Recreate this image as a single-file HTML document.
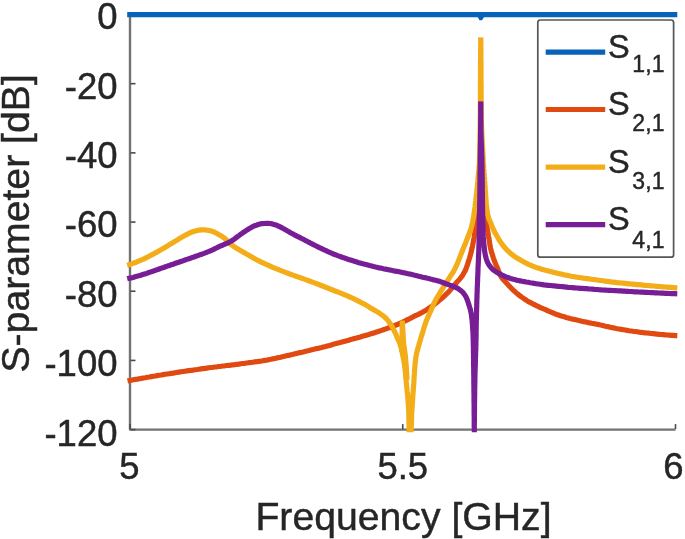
<!DOCTYPE html>
<html lang="en"><head><meta charset="utf-8"><title>S-parameter plot</title>
<style>
html,body{margin:0;padding:0;background:#fff;}
body{width:685px;height:539px;overflow:hidden;}
svg{display:block;filter:blur(0.4px);}
</style></head><body>
<svg width="685" height="539" viewBox="0 0 685 539">
<rect width="685" height="539" fill="#ffffff"/>
<defs><clipPath id="clip"><rect x="120" y="0" width="565" height="432.3"/></clipPath></defs>
<g stroke="#737373" stroke-width="2.4" fill="none" stroke-linejoin="round">
<path d="M130.0,14.5V429.6H675.5"/>
</g>
<g stroke="#4a4a4a" stroke-width="1.6" fill="none">
<path d="M130.5,14.50h5"/>
<path d="M130.5,83.68h5"/>
<path d="M130.5,152.87h5"/>
<path d="M130.5,222.05h5"/>
<path d="M130.5,291.23h5"/>
<path d="M130.5,360.42h5"/>
<path d="M130.5,429.60h5"/>
<path d="M130.00,429.1v-5"/>
<path d="M402.75,429.1v-5"/>
<path d="M675.50,429.1v-5"/>
</g>
<g fill="none" stroke-width="5.2" stroke-linejoin="bevel" stroke-linecap="butt" clip-path="url(#clip)">
<path stroke="#0762B8" d="M127.2,14.7H677.3"/>
<path stroke="#0762B8" stroke-width="3" d="M478.5,15L480.75,19.5L483.5,15"/>
<path stroke="#E0490F" d="M127.5,380.9L129.5,380.5L131.5,380.2L133.4,379.8L135.4,379.4L137.4,379.1L139.4,378.7L141.4,378.4L143.3,378.0L145.3,377.7L147.3,377.3L149.3,377.0L151.3,376.6L153.2,376.3L155.2,376.0L157.2,375.6L159.2,375.3L161.2,375.0L163.2,374.6L165.1,374.3L167.1,374.0L169.1,373.7L171.1,373.4L173.1,373.1L175.1,372.7L177.1,372.4L179.0,372.1L181.0,371.8L183.0,371.5L185.0,371.2L187.0,370.9L189.0,370.6L191.0,370.3L193.0,370.1L195.0,369.8L197.0,369.5L198.9,369.2L200.9,368.9L202.9,368.6L204.9,368.4L206.9,368.1L208.9,367.8L210.9,367.5L212.9,367.3L214.9,367.0L216.9,366.8L218.9,366.5L220.9,366.3L222.9,366.0L224.9,365.8L226.9,365.5L228.9,365.3L230.9,365.1L232.9,364.8L234.8,364.6L236.8,364.3L238.8,364.1L240.8,363.8L242.8,363.5L244.8,363.3L246.8,363.0L248.8,362.7L250.8,362.5L252.8,362.2L254.8,361.9L256.8,361.7L258.8,361.4L260.8,361.1L262.7,360.8L264.7,360.4L266.7,360.1L268.7,359.7L270.7,359.3L272.6,358.9L274.6,358.5L276.6,358.1L278.5,357.6L280.5,357.2L282.4,356.7L284.4,356.3L286.4,355.8L288.3,355.4L290.3,354.9L292.2,354.5L294.2,354.0L296.2,353.5L298.1,353.1L300.1,352.6L302.0,352.2L304.0,351.7L305.9,351.2L307.9,350.8L309.9,350.3L311.8,349.8L313.8,349.3L315.7,348.8L317.7,348.4L319.6,347.9L321.6,347.4L323.5,346.9L325.5,346.4L327.4,345.9L329.4,345.4L331.3,344.9L333.2,344.3L335.2,343.8L337.1,343.3L339.1,342.8L341.0,342.3L343.0,341.7L344.9,341.2L346.8,340.7L348.8,340.2L350.7,339.6L352.7,339.1L354.6,338.5L356.5,338.0L358.5,337.4L360.4,336.9L362.3,336.3L364.3,335.8L366.2,335.2L368.1,334.7L370.1,334.1L372.0,333.5L373.9,332.9L375.8,332.3L377.7,331.7L379.6,331.1L381.5,330.4L383.4,329.7L385.3,329.1L387.2,328.4L389.1,327.7L391.0,327.0L392.9,326.2L394.7,325.5L396.6,324.8L398.5,324.0L400.3,323.2L402.2,322.4L404.0,321.5L405.8,320.6L407.6,319.7L409.4,318.8L411.1,317.9L412.9,316.9L414.7,316.0L416.5,315.2L418.4,314.3L420.2,313.4L422.0,312.5L423.7,311.5L425.5,310.5L427.2,309.5L428.8,308.3L430.5,307.2L432.1,306.0L433.7,304.8L435.3,303.6L436.9,302.4L438.5,301.1L440.0,299.8L441.6,298.5L443.1,297.2L444.6,295.8L446.0,294.4L447.5,293.0L448.9,291.6L450.2,290.1L451.5,288.6L452.9,287.1L454.1,285.5L455.4,284.0L456.7,282.4L458.0,280.9L459.4,279.4L460.7,277.9L461.9,276.3L463.0,274.6L464.0,272.8L465.0,271.1L465.8,269.3L466.5,267.4L467.2,265.5L467.8,263.6L468.4,261.6L469.0,259.7L469.6,257.8L470.2,255.8L470.7,253.9L471.2,252.0L471.6,250.0L472.1,248.0L472.5,246.1L472.9,244.1L473.3,242.1L473.6,240.1L474.0,238.2L474.3,236.2L474.6,234.2L475.0,232.2L475.3,230.2L475.6,228.2L475.8,226.2L476.1,224.2L476.3,222.3L476.6,220.3L476.8,218.3L477.0,216.3L477.2,214.3L477.4,212.2L477.6,210.2L477.7,208.2L477.9,206.2L478.1,204.2L478.2,202.2L478.4,200.2L478.5,198.2L478.6,196.2L478.8,194.2L478.9,192.2L479.0,190.2L479.1,188.2L479.2,186.2L479.3,184.2L479.4,182.2L479.5,180.1L479.6,178.1L479.7,176.1L479.8,174.1L479.9,172.1L480.0,170.1L480.1,168.1L480.2,166.1L480.3,164.1L480.4,162.1L480.4,160.1L480.5,158.0L480.6,156.0L480.6,154.0L480.7,152.0L480.8,150.0L480.8,152.0L480.9,154.0L481.0,156.0L481.1,158.0L481.2,160.1L481.3,162.1L481.4,164.1L481.5,166.1L481.6,168.1L481.7,170.1L481.9,172.1L482.0,174.1L482.1,176.1L482.2,178.2L482.4,180.2L482.5,182.2L482.6,184.2L482.7,186.2L482.9,188.2L483.0,190.2L483.1,192.2L483.3,194.2L483.4,196.2L483.6,198.2L483.7,200.3L483.9,202.3L484.1,204.3L484.2,206.3L484.4,208.3L484.6,210.3L484.9,212.3L485.1,214.3L485.4,216.3L485.7,218.3L486.0,220.2L486.3,222.2L486.6,224.2L486.9,226.2L487.2,228.2L487.5,230.2L487.9,232.2L488.2,234.2L488.5,236.2L488.8,238.1L489.2,240.1L489.5,242.1L489.8,244.1L490.1,246.1L490.5,248.1L491.0,250.0L491.5,252.0L492.1,253.9L492.7,255.8L493.3,257.8L494.0,259.7L494.7,261.5L495.4,263.4L496.2,265.3L497.0,267.1L497.8,269.0L498.5,270.9L499.2,272.8L500.0,274.6L500.9,276.4L502.0,278.0L503.2,279.6L504.6,281.1L506.0,282.6L507.4,284.1L508.8,285.6L510.2,287.0L511.6,288.5L513.0,289.9L514.5,291.2L516.0,292.6L517.5,293.9L519.1,295.1L520.7,296.3L522.3,297.5L524.0,298.7L525.7,299.8L527.4,300.9L529.1,301.9L530.9,302.8L532.7,303.8L534.5,304.7L536.3,305.6L538.1,306.4L539.9,307.3L541.8,308.1L543.6,308.9L545.5,309.7L547.3,310.5L549.2,311.3L551.0,312.1L552.9,312.9L554.7,313.7L556.6,314.4L558.5,315.0L560.4,315.7L562.3,316.3L564.3,316.8L566.2,317.4L568.2,317.9L570.1,318.4L572.1,318.9L574.0,319.4L576.0,319.8L577.9,320.3L579.9,320.7L581.9,321.2L583.8,321.6L585.8,322.0L587.8,322.4L589.8,322.9L591.7,323.3L593.7,323.6L595.7,324.0L597.7,324.4L599.6,324.8L601.6,325.2L603.6,325.7L605.5,326.2L607.5,326.6L609.4,327.1L611.4,327.5L613.4,327.9L615.3,328.3L617.3,328.7L619.3,329.0L621.3,329.4L623.3,329.7L625.3,330.0L627.3,330.4L629.2,330.7L631.2,331.0L633.2,331.3L635.2,331.5L637.2,331.8L639.2,332.1L641.2,332.3L643.2,332.6L645.2,332.8L647.2,333.0L649.2,333.2L651.2,333.5L653.2,333.7L655.2,333.9L657.2,334.1L659.2,334.3L661.2,334.5L663.2,334.6L665.2,334.8L667.2,335.0L669.3,335.1L671.3,335.3L673.3,335.4L675.3,335.6L677.3,335.7"/>
<path stroke="#F2AD18" d="M127.2,265.4L129.1,264.8L131.0,264.1L132.9,263.4L134.8,262.7L136.7,262.0L138.6,261.2L140.4,260.4L142.2,259.6L144.1,258.8L145.9,257.9L147.7,257.0L149.5,256.1L151.3,255.1L153.1,254.2L154.8,253.2L156.6,252.3L158.3,251.3L160.1,250.3L161.8,249.3L163.6,248.2L165.3,247.2L167.0,246.2L168.8,245.1L170.5,244.1L172.2,243.1L173.9,242.0L175.6,240.9L177.4,239.9L179.1,238.8L180.8,237.8L182.6,236.8L184.3,235.8L186.1,234.8L187.9,233.9L189.7,233.0L191.5,232.2L193.4,231.5L195.4,230.9L197.3,230.4L199.3,230.1L201.3,229.9L203.3,229.8L205.3,229.9L207.3,230.2L209.3,230.6L211.3,231.1L213.2,231.7L215.0,232.5L216.9,233.4L218.6,234.4L220.4,235.4L222.1,236.5L223.7,237.7L225.3,238.9L226.7,240.3L228.1,241.8L229.6,243.2L231.1,244.4L232.7,245.6L234.4,246.8L236.1,247.9L237.8,248.9L239.6,250.0L241.3,251.0L243.1,252.0L244.8,253.1L246.5,254.1L248.3,255.1L250.0,256.1L251.8,257.1L253.5,258.1L255.3,259.0L257.1,260.0L258.9,260.9L260.7,261.8L262.5,262.7L264.3,263.5L266.2,264.4L268.0,265.2L269.8,266.0L271.7,266.8L273.5,267.6L275.4,268.4L277.3,269.1L279.1,269.9L281.0,270.6L282.9,271.4L284.8,272.1L286.6,272.8L288.5,273.5L290.4,274.2L292.3,274.9L294.2,275.6L296.1,276.3L298.0,276.9L299.9,277.6L301.8,278.2L303.7,278.9L305.6,279.6L307.5,280.3L309.4,281.0L311.3,281.7L313.2,282.4L315.1,283.1L317.0,283.8L318.8,284.5L320.7,285.3L322.6,286.0L324.5,286.7L326.3,287.5L328.2,288.2L330.1,289.0L332.0,289.7L333.8,290.5L335.7,291.2L337.6,291.9L339.5,292.7L341.3,293.4L343.2,294.2L345.1,294.9L346.9,295.7L348.8,296.5L350.6,297.3L352.4,298.2L354.3,299.0L356.1,299.9L357.9,300.8L359.7,301.7L361.5,302.7L363.2,303.6L365.0,304.6L366.7,305.6L368.5,306.6L370.2,307.7L371.9,308.7L373.7,309.8L375.4,310.8L377.1,311.8L378.9,312.8L380.5,314.0L382.2,315.2L383.8,316.4L385.3,317.7L386.7,319.1L388.0,320.6L389.2,322.3L390.4,323.9L391.5,325.6L392.5,327.4L393.4,329.1L394.3,331.0L395.2,332.8L396.0,334.6L396.8,336.5L397.5,338.4L398.4,340.2L399.3,342.0L400.0,343.9L400.5,345.8L401.1,347.8L401.6,349.7L402.0,351.7L402.4,353.7L402.8,355.6L403.2,357.6L403.6,359.6L404.0,361.6L404.3,363.6L404.6,365.6L404.8,367.6L405.1,369.6L405.3,371.6L405.5,373.6L405.7,375.6L405.8,377.6L406.0,379.6L406.2,381.6L406.4,383.6L406.6,385.6L406.8,387.6L407.0,389.6L407.2,391.6L407.5,393.6L407.7,395.6L407.8,397.6L408.0,399.7L408.1,401.7L408.3,403.7L408.4,405.7L408.5,407.7L408.6,409.7L408.7,411.7L408.8,413.7L408.8,415.8L408.9,417.8L408.9,419.8L409.0,421.8L409.0,423.8L409.1,425.8L409.1,427.8L409.1,429.9L409.2,431.9L409.2,433.9L409.3,435.9L409.4,437.9L409.4,439.9L409.5,441.9L409.5,444.0L409.6,446.0L409.6,448.0L409.7,450.0L410.6,450.0L410.7,448.0L410.7,446.0L410.8,444.0L410.8,441.9L410.9,439.9L410.9,437.9L411.0,435.9L411.0,433.9L411.1,431.9L411.2,429.8L411.2,427.8L411.3,425.8L411.4,423.8L411.4,421.8L411.5,419.8L411.6,417.8L411.6,415.7L411.7,413.7L411.8,411.7L411.9,409.7L412.1,407.7L412.2,405.7L412.3,403.7L412.5,401.7L412.6,399.6L412.7,397.6L412.9,395.6L413.0,393.6L413.2,391.6L413.3,389.6L413.5,387.6L413.6,385.6L413.8,383.6L413.9,381.6L414.0,379.5L414.1,377.5L414.2,375.5L414.4,373.5L414.5,371.5L414.6,369.5L414.8,367.5L415.0,365.5L415.1,363.4L415.4,361.4L415.6,359.4L415.8,357.4L416.2,355.5L416.6,353.5L417.0,351.5L417.6,349.6L418.1,347.6L418.7,345.7L419.2,343.7L419.8,341.8L420.3,339.9L420.9,337.9L421.5,336.0L422.1,334.1L422.7,332.2L423.3,330.2L423.8,328.3L424.4,326.4L425.1,324.4L425.7,322.5L426.4,320.7L427.2,318.8L428.0,316.9L428.8,315.1L429.6,313.3L430.5,311.4L431.3,309.6L432.1,307.7L432.9,305.9L433.7,304.0L434.6,302.2L435.5,300.4L436.4,298.6L437.5,296.9L438.5,295.2L439.5,293.5L440.6,291.7L441.6,290.0L442.7,288.3L443.8,286.6L444.8,284.9L445.9,283.2L447.0,281.5L448.1,279.8L449.2,278.1L450.3,276.4L451.4,274.7L452.5,273.0L453.6,271.3L454.5,269.6L455.4,267.7L456.3,265.9L457.1,264.1L457.9,262.2L458.6,260.3L459.4,258.5L460.1,256.6L460.8,254.7L461.6,252.8L462.3,251.0L463.1,249.1L463.8,247.2L464.6,245.4L465.4,243.5L466.1,241.6L466.8,239.7L467.6,237.9L468.3,236.0L469.0,234.1L469.7,232.2L470.4,230.3L471.1,228.4L471.6,226.5L472.1,224.5L472.5,222.6L472.9,220.6L473.3,218.6L473.6,216.6L473.9,214.6L474.2,212.6L474.5,210.6L474.8,208.6L475.1,206.6L475.3,204.6L475.5,202.6L475.8,200.6L476.0,198.6L476.2,196.6L476.4,194.6L476.7,192.6L476.9,190.6L477.1,188.6L477.3,186.6L477.5,184.6L477.7,182.6L477.9,180.5L478.0,178.5L478.2,176.5L478.4,174.5L478.6,172.5L478.8,170.5L479.0,168.5L479.1,166.5L479.3,164.5L479.4,162.5L479.5,160.5L479.5,158.4L479.6,156.4L479.7,154.4L479.7,152.4L479.8,150.4L479.8,148.4L479.8,146.4L479.9,144.3L479.9,142.3L480.0,140.3L480.0,138.3L480.0,136.3L480.0,134.3L480.1,132.2L480.1,130.2L480.1,128.2L480.2,126.2L480.2,124.2L480.2,122.2L480.2,120.1L480.2,118.1L480.3,116.1L480.3,114.1L480.3,112.1L480.3,110.1L480.3,108.1L480.3,106.0L480.3,104.0L480.4,102.0L480.4,100.0L480.4,98.0L480.4,96.0L480.4,93.9L480.4,91.9L480.4,89.9L480.4,87.9L480.4,85.9L480.4,83.9L480.4,81.8L480.5,79.8L480.5,77.8L480.5,75.8L480.5,73.8L480.5,71.8L480.5,69.8L480.5,67.7L480.5,65.7L480.5,63.7L480.5,61.7L480.6,59.7L480.6,57.7L480.6,55.6L480.6,53.6L480.6,51.6L480.6,49.6L480.7,47.6L480.7,45.6L480.7,43.5L480.7,41.5L480.7,39.5L480.8,37.5L480.8,39.5L480.8,41.5L480.8,43.5L480.8,45.6L480.8,47.6L480.9,49.6L480.9,51.6L480.9,53.6L480.9,55.6L480.9,57.7L480.9,59.7L481.0,61.7L481.0,63.7L481.0,65.7L481.0,67.7L481.0,69.8L481.0,71.8L481.0,73.8L481.0,75.8L481.0,77.8L481.0,79.8L481.0,81.8L481.1,83.9L481.1,85.9L481.1,87.9L481.1,89.9L481.1,91.9L481.1,93.9L481.1,96.0L481.1,98.0L481.1,100.0L481.1,102.0L481.2,104.0L481.2,106.0L481.2,108.1L481.2,110.1L481.2,112.1L481.3,114.1L481.3,116.1L481.3,118.1L481.4,120.1L481.4,122.2L481.5,124.2L481.6,126.2L481.6,128.2L481.7,130.2L481.8,132.2L481.9,134.2L482.0,136.3L482.1,138.3L482.2,140.3L482.3,142.3L482.4,144.3L482.5,146.3L482.6,148.3L482.7,150.4L482.8,152.4L482.9,154.4L483.0,156.4L483.1,158.4L483.2,160.4L483.3,162.4L483.5,164.4L483.6,166.5L483.7,168.5L483.9,170.5L484.0,172.5L484.2,174.5L484.3,176.5L484.5,178.5L484.6,180.5L484.8,182.5L484.9,184.6L485.0,186.6L485.2,188.6L485.3,190.6L485.4,192.6L485.6,194.6L485.7,196.6L485.9,198.6L486.1,200.6L486.2,202.7L486.4,204.7L486.6,206.7L486.9,208.7L487.1,210.7L487.4,212.7L487.7,214.7L488.2,216.6L488.8,218.5L489.6,220.4L490.4,222.2L491.2,224.1L491.9,226.0L492.7,227.8L493.5,229.7L494.4,231.5L495.3,233.3L496.3,235.1L497.3,236.8L498.3,238.6L499.4,240.3L500.5,242.0L501.6,243.6L502.8,245.3L504.1,246.8L505.4,248.3L506.8,249.8L508.2,251.2L509.7,252.6L511.3,253.9L512.8,255.2L514.4,256.4L516.1,257.5L517.8,258.6L519.6,259.6L521.3,260.6L523.1,261.6L524.9,262.5L526.7,263.4L528.5,264.3L530.4,265.1L532.2,265.9L534.1,266.7L536.0,267.4L537.9,268.0L539.8,268.6L541.7,269.2L543.7,269.8L545.6,270.3L547.6,270.8L549.5,271.3L551.5,271.8L553.4,272.3L555.4,272.8L557.3,273.3L559.3,273.7L561.3,274.1L563.2,274.6L565.2,275.0L567.2,275.4L569.2,275.8L571.1,276.2L573.1,276.5L575.1,276.9L577.1,277.2L579.1,277.5L581.1,277.8L583.1,278.1L585.1,278.3L587.1,278.6L589.1,278.9L591.1,279.2L593.1,279.5L595.1,279.7L597.1,280.0L599.1,280.3L601.1,280.5L603.1,280.8L605.1,281.1L607.1,281.3L609.1,281.6L611.1,281.9L613.1,282.1L615.1,282.3L617.1,282.6L619.1,282.8L621.1,283.0L623.1,283.2L625.1,283.4L627.1,283.6L629.1,283.8L631.1,284.0L633.1,284.2L635.1,284.4L637.1,284.6L639.1,284.7L641.1,284.9L643.1,285.1L645.2,285.3L647.2,285.5L649.2,285.6L651.2,285.8L653.2,286.0L655.2,286.1L657.2,286.3L659.2,286.5L661.2,286.7L663.2,286.8L665.2,287.0L667.2,287.1L669.3,287.3L671.3,287.4L673.3,287.6L675.3,287.8L677.3,287.9"/>
<path stroke="#F2AD18" d="M401.8,352L402.3,320.6L403.6,343.4L405.2,354.5L406.2,365.7L407,380"/>
<path stroke="#771E96" d="M127.2,278.8L129.2,278.3L131.1,277.9L133.1,277.4L135.0,276.8L136.9,276.3L138.9,275.8L140.8,275.2L142.7,274.6L144.6,274.0L146.5,273.4L148.4,272.7L150.3,272.1L152.2,271.4L154.1,270.8L156.0,270.1L157.9,269.5L159.8,268.8L161.7,268.1L163.6,267.5L165.5,266.8L167.4,266.1L169.3,265.5L171.2,264.8L173.1,264.2L175.0,263.5L176.9,262.8L178.8,262.2L180.7,261.5L182.6,260.9L184.5,260.2L186.4,259.6L188.3,258.9L190.2,258.3L192.1,257.6L194.0,257.0L195.9,256.3L197.8,255.6L199.7,254.9L201.6,254.2L203.4,253.6L205.3,252.9L207.2,252.1L209.1,251.4L210.9,250.6L212.7,249.8L214.5,248.9L216.3,248.0L218.1,247.1L220.0,246.2L221.8,245.5L223.7,244.7L225.5,243.9L227.4,243.1L229.2,242.2L230.9,241.3L232.6,240.2L234.3,239.1L235.9,237.9L237.5,236.7L239.1,235.5L240.7,234.2L242.4,233.1L244.0,231.9L245.7,230.9L247.4,229.8L249.1,228.7L250.9,227.6L252.6,226.7L254.4,225.8L256.3,225.2L258.2,224.5L260.2,223.9L262.2,223.6L264.2,223.5L266.2,223.4L268.2,223.4L270.2,223.5L272.2,223.9L274.1,224.4L276.0,224.9L277.9,225.8L279.7,226.7L281.5,227.6L283.2,228.6L285.0,229.6L286.7,230.6L288.5,231.6L290.2,232.6L292.0,233.5L293.8,234.4L295.5,235.4L297.3,236.3L299.1,237.2L300.9,238.1L302.7,239.0L304.5,239.9L306.3,240.9L308.0,241.8L309.8,242.7L311.6,243.7L313.4,244.6L315.2,245.5L317.0,246.4L318.8,247.3L320.6,248.2L322.4,249.0L324.2,249.9L326.0,250.7L327.9,251.6L329.7,252.4L331.5,253.2L333.4,254.0L335.3,254.7L337.1,255.4L339.0,256.1L340.9,256.8L342.8,257.5L344.7,258.1L346.6,258.8L348.5,259.4L350.4,260.0L352.3,260.6L354.3,261.2L356.2,261.8L358.1,262.4L360.0,262.9L362.0,263.5L363.9,264.0L365.9,264.5L367.8,265.0L369.7,265.5L371.7,266.0L373.6,266.5L375.6,267.0L377.6,267.4L379.5,267.9L381.5,268.3L383.4,268.7L385.4,269.1L387.4,269.5L389.3,269.9L391.3,270.3L393.3,270.7L395.3,271.1L397.2,271.4L399.2,271.8L401.2,272.2L403.1,272.6L405.1,273.0L407.1,273.5L409.0,273.9L411.0,274.3L412.9,274.8L414.9,275.3L416.8,275.7L418.8,276.2L420.8,276.7L422.7,277.2L424.7,277.6L426.6,278.1L428.6,278.6L430.5,279.1L432.5,279.6L434.4,280.0L436.4,280.5L438.3,281.0L440.2,281.6L442.1,282.3L444.0,283.0L445.9,283.7L447.8,284.4L449.7,285.1L451.6,285.8L453.5,286.5L455.3,287.2L457.1,288.1L458.8,289.1L460.5,290.3L462.0,291.6L463.4,293.1L464.6,294.7L465.7,296.4L466.6,298.2L467.3,300.0L468.0,301.9L468.6,303.9L469.2,305.8L469.8,307.7L470.4,309.6L470.8,311.6L471.2,313.6L471.5,315.5L471.7,317.5L472.0,319.5L472.2,321.5L472.3,323.5L472.5,325.5L472.6,327.5L472.7,329.6L472.9,331.6L473.0,333.6L473.1,335.6L473.1,337.6L473.2,339.6L473.2,341.6L473.3,343.6L473.3,345.6L473.4,347.6L473.4,349.6L473.4,351.6L473.5,353.6L473.5,355.7L473.5,357.7L473.6,359.7L473.6,361.7L473.6,363.7L473.6,365.7L473.7,367.7L473.7,369.7L473.7,371.7L473.7,373.7L473.8,375.7L473.8,377.8L473.8,379.8L473.8,381.8L473.8,383.8L473.9,385.8L473.9,387.8L473.9,389.8L473.9,391.8L474.0,393.8L474.0,395.8L474.0,397.8L474.0,399.8L474.0,401.9L474.1,403.9L474.1,405.9L474.1,407.9L474.1,409.9L474.1,411.9L474.1,413.9L474.2,415.9L474.2,417.9L474.2,419.9L474.2,421.9L474.2,423.9L474.2,426.0L474.3,428.0L474.3,430.0L474.3,432.0L474.3,434.0L474.3,436.0L474.3,434.0L474.3,432.0L474.3,430.0L474.3,427.9L474.3,425.9L474.3,423.9L474.4,421.9L474.4,419.9L474.4,417.9L474.4,415.8L474.4,413.8L474.5,411.8L474.5,409.8L474.5,407.8L474.5,405.8L474.5,403.8L474.6,401.7L474.6,399.7L474.6,397.7L474.7,395.7L474.7,393.7L474.7,391.7L474.7,389.6L474.8,387.6L474.8,385.6L474.8,383.6L474.9,381.6L474.9,379.6L474.9,377.6L475.0,375.5L475.0,373.5L475.1,371.5L475.1,369.5L475.2,367.5L475.3,365.5L475.3,363.4L475.4,361.4L475.4,359.4L475.5,357.4L475.6,355.4L475.6,353.4L475.7,351.4L475.8,349.3L475.8,347.3L475.9,345.3L475.9,343.3L476.0,341.3L476.0,339.3L476.1,337.3L476.1,335.2L476.1,333.2L476.1,331.2L476.2,329.2L476.2,327.2L476.2,325.2L476.3,323.1L476.3,321.1L476.4,319.1L476.4,317.1L476.5,315.1L476.5,313.1L476.6,311.1L476.6,309.0L476.7,307.0L476.7,305.0L476.8,303.0L476.8,301.0L476.9,299.0L477.0,297.0L477.0,294.9L477.1,292.9L477.2,290.9L477.2,288.9L477.3,286.9L477.4,284.9L477.5,282.9L477.6,280.8L477.6,278.8L477.7,276.8L477.8,274.8L477.9,272.8L478.0,270.8L478.0,268.8L478.1,266.7L478.2,264.7L478.3,262.7L478.4,260.7L478.5,258.7L478.5,256.7L478.6,254.7L478.7,252.6L478.8,250.6L478.8,248.6L478.9,246.6L479.0,244.6L479.0,242.6L479.1,240.6L479.1,238.5L479.2,236.5L479.3,234.5L479.3,232.5L479.3,230.5L479.4,228.5L479.4,226.5L479.4,224.4L479.5,222.4L479.5,220.4L479.5,218.4L479.6,216.4L479.6,214.4L479.6,212.4L479.6,210.3L479.7,208.3L479.7,206.3L479.7,204.3L479.7,202.3L479.8,200.3L479.8,198.2L479.8,196.2L479.8,194.2L479.9,192.2L479.9,190.2L479.9,188.2L479.9,186.1L479.9,184.1L480.0,182.1L480.0,180.1L480.0,178.1L480.0,176.1L480.0,174.1L480.1,172.0L480.1,170.0L480.1,168.0L480.1,166.0L480.2,164.0L480.2,162.0L480.2,159.9L480.2,157.9L480.3,155.9L480.3,153.9L480.3,151.9L480.3,149.9L480.4,147.9L480.4,145.8L480.4,143.8L480.5,141.8L480.5,139.8L480.5,137.8L480.5,135.8L480.6,133.7L480.6,131.7L480.6,129.7L480.6,127.7L480.6,125.7L480.6,123.7L480.7,121.7L480.7,119.6L480.7,117.6L480.7,115.6L480.7,113.6L480.7,111.6L480.7,109.6L480.7,107.5L480.7,105.5L480.7,103.5L480.8,101.5L480.8,103.5L480.8,105.5L480.8,107.6L480.8,109.6L480.8,111.6L480.8,113.6L480.8,115.7L480.8,117.7L480.8,119.7L480.9,121.7L480.9,123.7L480.9,125.8L480.9,127.8L480.9,129.8L481.0,131.8L481.0,133.8L481.1,135.9L481.1,137.9L481.2,139.9L481.3,141.9L481.3,143.9L481.4,146.0L481.5,148.0L481.6,150.0L481.7,152.0L481.7,154.0L481.8,156.1L481.9,158.1L481.9,160.1L481.9,162.1L482.0,164.1L482.0,166.2L482.1,168.2L482.1,170.2L482.1,172.2L482.1,174.3L482.2,176.3L482.2,178.3L482.2,180.3L482.3,182.3L482.3,184.4L482.3,186.4L482.3,188.4L482.3,190.4L482.4,192.5L482.4,194.5L482.4,196.5L482.4,198.5L482.4,200.5L482.5,202.6L482.5,204.6L482.5,206.6L482.6,208.6L482.6,210.7L482.6,212.7L482.6,214.7L482.7,216.7L482.7,218.7L482.8,220.8L482.8,222.8L482.9,224.8L482.9,226.8L483.0,228.8L483.0,230.9L483.1,232.9L483.2,234.9L483.3,236.9L483.5,238.9L483.6,241.0L483.8,243.0L484.0,245.0L484.2,247.0L484.4,249.0L484.6,251.0L485.0,253.0L485.3,255.1L485.8,257.0L486.3,259.0L486.9,260.8L487.7,262.7L488.7,264.5L489.9,266.2L491.2,267.8L492.5,269.2L494.0,270.4L495.8,271.6L497.5,272.7L499.3,273.7L501.1,274.6L502.9,275.5L504.8,276.3L506.7,277.1L508.6,277.8L510.5,278.5L512.4,279.1L514.4,279.6L516.3,280.1L518.3,280.5L520.3,280.9L522.3,281.3L524.2,281.6L526.2,282.0L528.2,282.3L530.2,282.7L532.2,283.0L534.2,283.4L536.2,283.7L538.2,284.0L540.2,284.3L542.2,284.6L544.2,284.9L546.2,285.1L548.2,285.3L550.2,285.5L552.2,285.7L554.3,285.9L556.3,286.1L558.3,286.3L560.3,286.5L562.3,286.7L564.3,286.9L566.3,287.1L568.3,287.3L570.4,287.5L572.4,287.6L574.4,287.8L576.4,288.0L578.4,288.1L580.4,288.3L582.4,288.4L584.5,288.6L586.5,288.7L588.5,288.9L590.5,289.0L592.5,289.2L594.5,289.4L596.6,289.5L598.6,289.7L600.6,289.8L602.6,290.0L604.6,290.1L606.6,290.2L608.7,290.3L610.7,290.4L612.7,290.5L614.7,290.6L616.7,290.7L618.8,290.8L620.8,290.9L622.8,291.1L624.8,291.2L626.8,291.3L628.8,291.4L630.9,291.5L632.9,291.7L634.9,291.8L636.9,291.9L638.9,292.0L641.0,292.1L643.0,292.2L645.0,292.3L647.0,292.4L649.0,292.5L651.0,292.6L653.1,292.7L655.1,292.8L657.1,292.9L659.1,293.0L661.1,293.1L663.2,293.2L665.2,293.3L667.2,293.4L669.2,293.5L671.2,293.6L673.3,293.6L675.3,293.7L677.3,293.8"/>
</g>
<g font-family="'Liberation Sans', sans-serif" fill="#262626" stroke="#262626" stroke-width="0.45">
<g font-size="36.5" text-anchor="end">
<text x="117.5" y="29.2">0</text>
<text x="117.5" y="98.6">-20</text>
<text x="117.5" y="168.0">-40</text>
<text x="117.5" y="237.4">-60</text>
<text x="117.5" y="306.8">-80</text>
<text x="117.5" y="376.2">-100</text>
<text x="117.5" y="445.6">-120</text>
</g>
<g font-size="36.5" text-anchor="middle">
<text x="129.3" y="479.1">5</text>
<text x="402.8" y="479.1">5.5</text>
<text x="673.3" y="479.1">6</text>
</g>
<text font-size="39.2" text-anchor="middle" x="403.5" y="529.5">Frequency [GHz]</text>
<text font-size="39.2" text-anchor="middle" transform="translate(29.0,223.4) rotate(-90)">S-parameter [dB]</text>
</g>
<rect x="537.8" y="20" width="135.8" height="237.2" rx="2.5" fill="#ffffff" stroke="#555555" stroke-width="1.7"/>
<g font-family="'Liberation Sans', sans-serif" fill="#262626" stroke="#262626" stroke-width="0.45">
<path d="M545.7,52.2H605.2" stroke="#0762B8" stroke-width="5.2" fill="none"/>
<text x="608" y="57.5" font-size="32.5">S<tspan font-size="23" dx="2.6" dy="14.8" letter-spacing="0.1">1,1</tspan></text>
<path d="M545.7,109.5H605.2" stroke="#E0490F" stroke-width="5.2" fill="none"/>
<text x="608" y="114.8" font-size="32.5">S<tspan font-size="23" dx="2.6" dy="15.7" letter-spacing="0.1">2,1</tspan></text>
<path d="M545.7,167.2H605.2" stroke="#F2AD18" stroke-width="5.2" fill="none"/>
<text x="608" y="172.5" font-size="32.5">S<tspan font-size="23" dx="2.6" dy="16.3" letter-spacing="0.1">3,1</tspan></text>
<path d="M545.7,224.6H605.2" stroke="#771E96" stroke-width="5.2" fill="none"/>
<text x="608" y="229.9" font-size="32.5">S<tspan font-size="23" dx="2.6" dy="17.7" letter-spacing="0.1">4,1</tspan></text>
</g>
</svg>
</body></html>
